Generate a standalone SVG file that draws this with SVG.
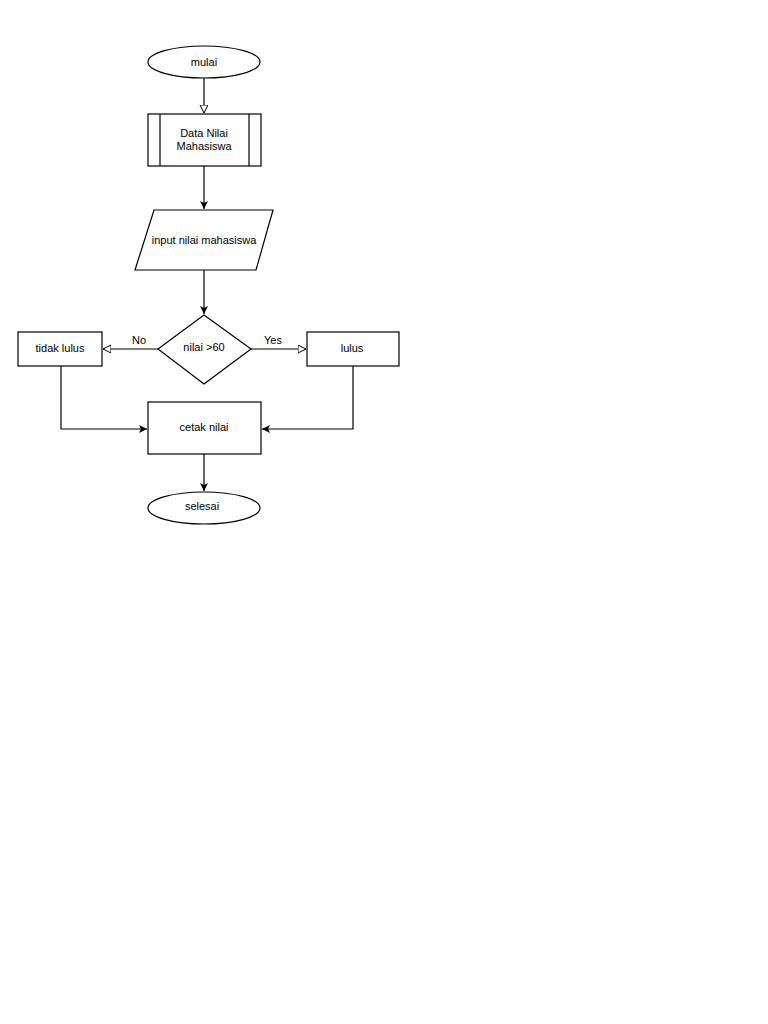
<svg xmlns="http://www.w3.org/2000/svg" width="768" height="1024" viewBox="0 0 768 1024">
<style>
.s{fill:#fff;stroke:#000;stroke-width:1.2}
.c{fill:none;stroke:#000;stroke-width:1.2}
text{font-family:"Liberation Sans",Arial,sans-serif;font-size:11px;text-anchor:middle;dominant-baseline:central}
</style>
<defs>
<marker id="f" markerWidth="10" markerHeight="10" refX="8" refY="4" orient="auto" markerUnits="userSpaceOnUse"><path d="M0,0 L8,4 L0,8 L2,4 Z" fill="#000"/></marker>
<marker id="o" markerWidth="10" markerHeight="10" refX="8" refY="4" orient="auto" markerUnits="userSpaceOnUse"><path d="M0,0 L8,4 L0,8 Z" fill="#fff" stroke="#000"/></marker>
</defs>
<rect width="768" height="1024" fill="#fff"/>
<g id="connectors">
<path class="c" d="M204,78 V113" marker-end="url(#o)"/>
<path class="c" d="M204,166 V209" marker-end="url(#f)"/>
<path class="c" d="M204,270 V314" marker-end="url(#f)"/>
<path class="c" d="M158,349 H103" marker-end="url(#o)"/>
<path class="c" d="M251,349 H306" marker-end="url(#o)"/>
<path class="c" d="M61,366 V429 H147" marker-end="url(#f)"/>
<path class="c" d="M353,366 V429 H262" marker-end="url(#f)"/>
<path class="c" d="M204,454 V491" marker-end="url(#f)"/>
<text x="139" y="340" font-size="10">No</text>
<text x="273" y="340" font-size="10">Yes</text>
</g>
<g id="mulai"><ellipse class="s" cx="204" cy="62" rx="56" ry="16"/><text x="204" y="62">mulai</text></g>
<g id="data"><rect class="s" x="148" y="114" width="113" height="52"/><path class="c" d="M160,114 V166 M249,114 V166"/><text x="204" y="133">Data Nilai</text><text x="204" y="146">Mahasiswa</text></g>
<g id="input"><path class="s" d="M154,210 H273 L256,270 H135 Z"/><text x="204" y="240">input nilai mahasiswa</text></g>
<g id="decision"><path class="s" d="M204,315 L251,349 L204,384 L158,349 Z"/><text x="204" y="347">nilai &gt;60</text></g>
<g id="tidak"><rect class="s" x="18" y="332" width="84" height="34"/><text x="60" y="348">tidak lulus</text></g>
<g id="lulus"><rect class="s" x="307" y="332" width="92" height="34"/><text x="352" y="348">lulus</text></g>
<g id="cetak"><rect class="s" x="148" y="402" width="113" height="52"/><text x="204" y="427">cetak nilai</text></g>
<g id="selesai"><ellipse class="s" cx="204" cy="508" rx="56" ry="16"/><text x="202" y="506">selesai</text></g>
</svg>
